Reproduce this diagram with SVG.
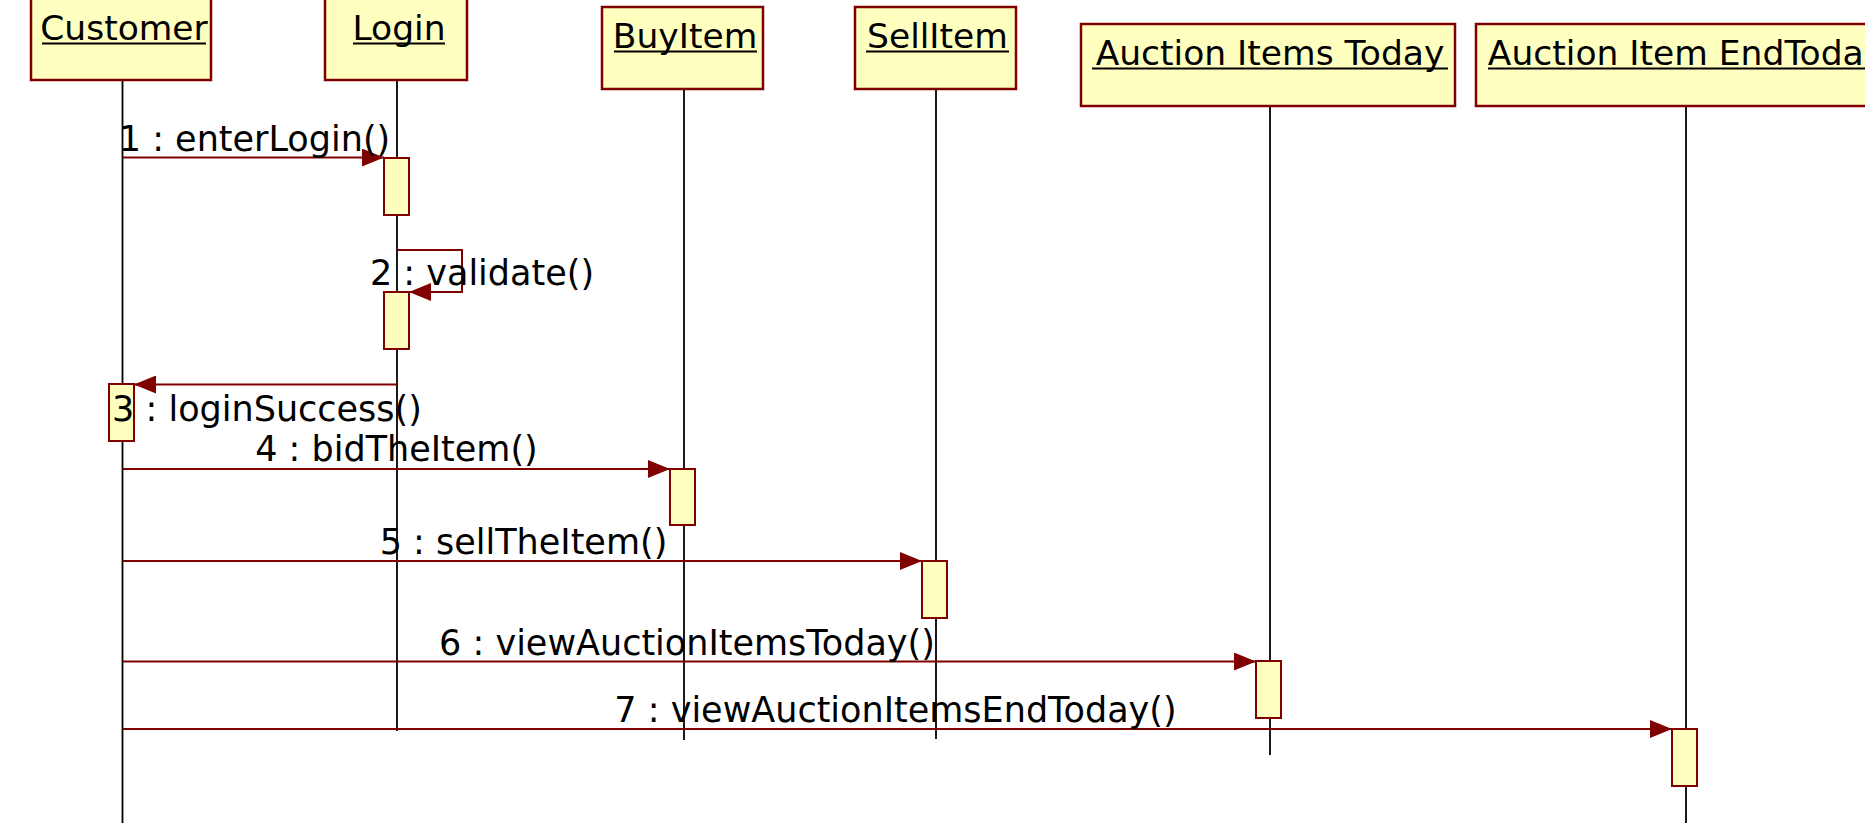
<svg xmlns="http://www.w3.org/2000/svg" width="1865" height="830" viewBox="0 0 1865 830">
<style>
.box{fill:#ffffc0;stroke:#800000;stroke-width:2.5}
.act{fill:#ffffc0;stroke:#800000;stroke-width:2}
.life{stroke:#000;stroke-width:1.8;fill:none}
.msg{stroke:#800000;stroke-width:2;fill:none;marker-end:url(#arr)}
.hdr{font-family:"DejaVu Sans",Verdana,sans-serif;font-size:34.5px;fill:#000;text-anchor:middle}
.ul{stroke:#000;stroke-width:2}
.lbl{font-family:"DejaVu Sans",Verdana,sans-serif;font-size:35px;fill:#000;text-anchor:middle}
</style>
<defs>
<marker id="arr" markerUnits="userSpaceOnUse" markerWidth="22" markerHeight="18" refX="22" refY="9" orient="auto">
<path d="M0,0 L22,9 L0,18 Z" fill="#800000"/>
</marker>
</defs>
<rect width="1865" height="830" fill="#fff"/>
<g id="customer">
<line class="life" x1="122.5" y1="80" x2="122.5" y2="823"/>
<rect class="box" x="31" y="-2" width="180" height="82"/>
<text class="hdr" x="124" y="40">Customer</text>
<line class="ul" x1="42" y1="43.5" x2="206" y2="43.5"/>
<rect class="act" x="109" y="384" width="25" height="57"/>
</g>
<g id="login">
<line class="life" x1="397" y1="80" x2="397" y2="731"/>
<rect class="box" x="325" y="-2" width="142" height="82"/>
<text class="hdr" x="399" y="40">Login</text>
<line class="ul" x1="353" y1="43.5" x2="445" y2="43.5"/>
<rect class="act" x="384" y="158" width="25" height="57"/>
<rect class="act" x="384" y="292" width="25" height="57"/>
</g>
<g id="buyitem">
<line class="life" x1="684" y1="89" x2="684" y2="740"/>
<rect class="box" x="602" y="7" width="161" height="82"/>
<text class="hdr" x="685" y="48">BuyItem</text>
<line class="ul" x1="614" y1="51.5" x2="757" y2="51.5"/>
<rect class="act" x="670" y="469" width="25" height="56"/>
</g>
<g id="sellitem">
<line class="life" x1="936" y1="89" x2="936" y2="739"/>
<rect class="box" x="855" y="7" width="161" height="82"/>
<text class="hdr" x="937.5" y="48">SellItem</text>
<line class="ul" x1="866" y1="51.5" x2="1009" y2="51.5"/>
<rect class="act" x="922" y="561" width="25" height="57"/>
</g>
<g id="auction-items-today">
<line class="life" x1="1270" y1="106" x2="1270" y2="755"/>
<rect class="box" x="1081" y="24" width="374" height="82"/>
<text class="hdr" x="1270" y="65">Auction Items Today</text>
<line class="ul" x1="1092" y1="68.5" x2="1448" y2="68.5"/>
<rect class="act" x="1256" y="661" width="25" height="57"/>
</g>
<g id="auction-item-endtoday">
<line class="life" x1="1686" y1="106" x2="1686" y2="823"/>
<rect class="box" x="1476" y="24" width="422" height="82"/>
<text class="hdr" x="1686" y="65">Auction Item EndToday</text>
<line class="ul" x1="1488" y1="68.5" x2="1885" y2="68.5"/>
<rect class="act" x="1672" y="729" width="25" height="57"/>
</g>
<g id="connectors">
<line class="msg" x1="123" y1="157.5" x2="384" y2="157.5"/>
<text class="lbl" x="254.5" y="151">1 : enterLogin()</text>
<polyline class="msg" points="398,250 462,250 462,292 409,292"/>
<text class="lbl" x="482" y="285">2 : validate()</text>
<line class="msg" x1="397" y1="384.5" x2="134" y2="384.5"/>
<text class="lbl" x="267" y="421">3 : loginSuccess()</text>
<line class="msg" x1="123" y1="469" x2="670" y2="469"/>
<text class="lbl" x="396.5" y="461">4 : bidTheItem()</text>
<line class="msg" x1="123" y1="561" x2="922" y2="561"/>
<text class="lbl" x="523.5" y="554">5 : sellTheItem()</text>
<line class="msg" x1="123" y1="661.5" x2="1256" y2="661.5"/>
<text class="lbl" x="687" y="655">6 : viewAuctionItemsToday()</text>
<line class="msg" x1="123" y1="729" x2="1672" y2="729"/>
<text class="lbl" x="895.5" y="722">7 : viewAuctionItemsEndToday()</text>
</g>
</svg>
